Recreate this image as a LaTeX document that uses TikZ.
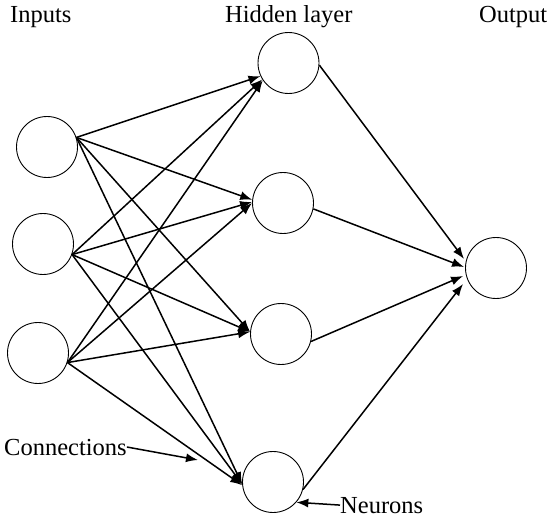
\documentclass[tikz,border=0pt]{standalone}
\usepackage{fontspec}
\setmainfont{Liberation Serif}
\usetikzlibrary{arrows.meta}
\begin{document}
\begin{tikzpicture}[x=1pt,y=-1pt,
  neuron/.style={circle,draw,line width=0.9pt,minimum size=61pt,inner sep=0pt},
  conn/.style={line width=1.5pt,-{Latex[length=12pt,width=9pt]}},
  lbl/.style={inner sep=0pt,anchor=base west,font=\fontsize{24.5}{28}\selectfont}]
\useasboundingbox (0,0) rectangle (550,519);
% labels
\node[lbl] (tin) at (10,23) {Inputs};
\node[lbl] (thid) at (225,23) {Hidden layer};
\node[lbl] (tout) at (479,23) {Output};
% neurons
\node[neuron] (I1) at (47,147) {};
\node[neuron] (I2) at (43,244) {};
\node[neuron] (I3) at (38,353) {};
\node[neuron] (H1) at (288.5,63) {};
\node[neuron] (H2) at (283,203) {};
\node[neuron] (H3) at (281,334) {};
\node[neuron] (H4) at (273,482) {};
\node[neuron] (O) at (496,268) {};
% input -> hidden
\draw[conn] (I1.18) -- (H1.205);
\draw[conn] (I1.18) -- (H2.174);
\draw[conn] (I1.18) -- (H3.176);
\draw[conn] (I1.18) -- (H4.184);
\draw[conn] (I2.-20) -- (H1.212);
\draw[conn] (I2.-20) -- (H2.178);
\draw[conn] (I2.-20) -- (H3.176);
\draw[conn] (I2.-20) -- (H4.184);
\draw[conn] (I3.-18) -- (H1.214);
\draw[conn] (I3.-18) -- (H2.180);
\draw[conn] (I3.-18) -- (H3.176);
\draw[conn] (I3.-18) -- (H4.186);
% hidden -> output
\draw[conn] (H1.-4) -- ([xshift=-1pt,yshift=9pt]O.west);
\draw[conn] (H2.-11) -- ([xshift=-1pt,yshift=1pt]O.west);
\draw[conn] (H3.-14) -- ([xshift=-2pt,yshift=-8pt]O.west);
\draw[conn] (H4.-14) -- ([xshift=-2pt,yshift=-16pt]O.west);
% annotations
\node[lbl] (tconn) at (4,455) {Connections};
\coordinate (ctip) at (198,460);
\draw[conn] (tconn.east) -- (ctip);
\node[lbl] (tneur) at (340,513) {Neurons};
\draw[conn] (tneur.west) -- (H4.-41);
\end{tikzpicture}
\end{document}
